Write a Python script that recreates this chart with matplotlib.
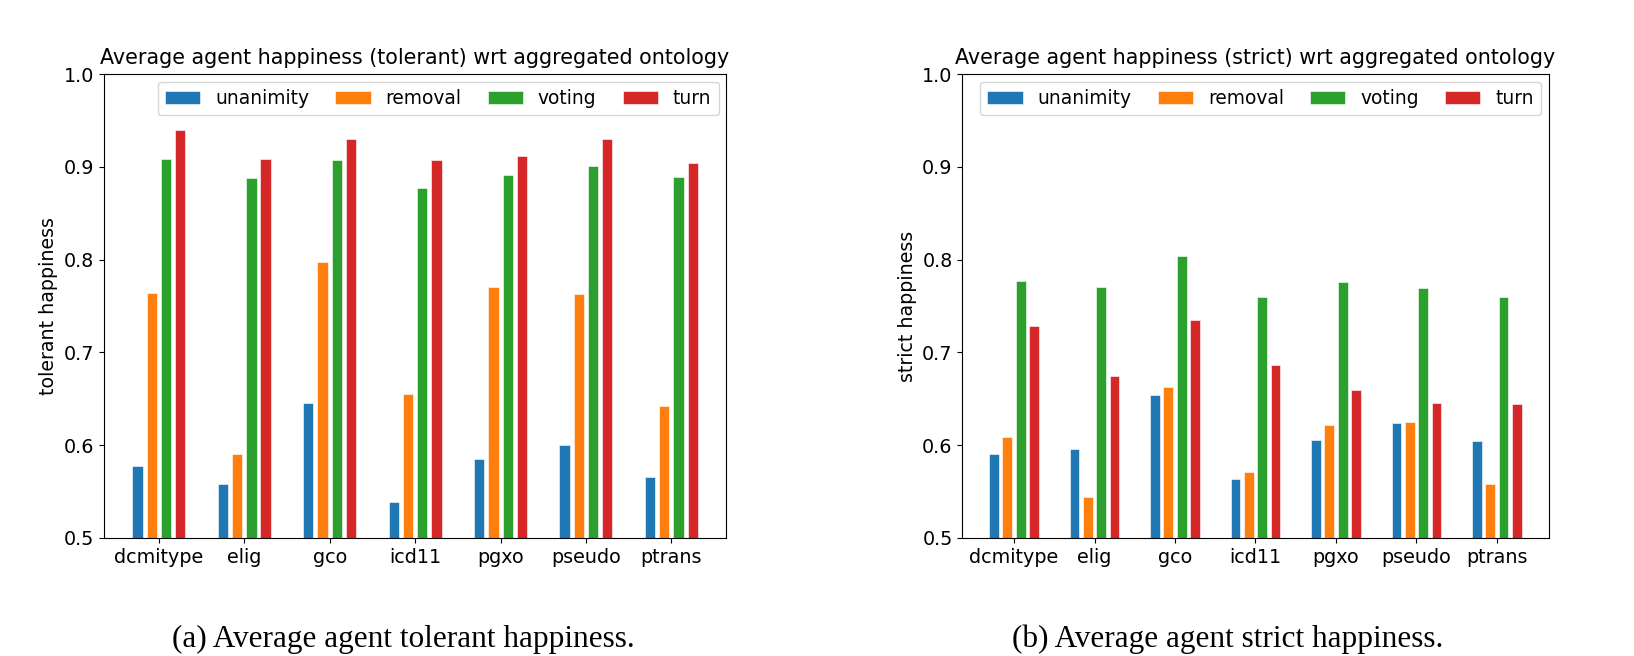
import numpy as np
import matplotlib
matplotlib.use("Agg")
import matplotlib.pyplot as plt

ontologies = ["dcmitype", "elig", "gco", "icd11", "pgxo", "pseudo", "ptrans"]
methods = ["unanimity", "removal", "voting", "turn"]

tolerant_unanimity = [0.577, 0.558, 0.645, 0.539, 0.585, 0.600, 0.566]
tolerant_removal = [0.764, 0.590, 0.797, 0.655, 0.771, 0.763, 0.642]
tolerant_voting = [0.908, 0.888, 0.907, 0.877, 0.891, 0.901, 0.889]
tolerant_turn = [0.940, 0.908, 0.930, 0.907, 0.912, 0.930, 0.904]

strict_unanimity = [0.590, 0.596, 0.654, 0.564, 0.606, 0.624, 0.605]
strict_removal = [0.609, 0.544, 0.663, 0.571, 0.622, 0.625, 0.558]
strict_voting = [0.777, 0.770, 0.804, 0.760, 0.776, 0.769, 0.760]
strict_turn = [0.728, 0.675, 0.735, 0.686, 0.659, 0.645, 0.644]

tolerant = [tolerant_unanimity, tolerant_removal, tolerant_voting, tolerant_turn]
strict = [strict_unanimity, strict_removal, strict_voting, strict_turn]
colors = ["#1f77b4", "#ff7f0e", "#2ca02c", "#d62728"]

plt.rcParams["font.family"] = ["DejaVu Sans"]

fig = plt.figure(figsize=(16.34, 6.56), dpi=100)
ax1 = fig.add_axes([0.0637, 0.180, 0.3807, 0.707])
ax2 = fig.add_axes([0.589, 0.180, 0.3587, 0.707])


def draw(ax, series, title, ylabel):
    x = np.arange(len(ontologies))
    step = 1 / 6
    for i, (vals, name) in enumerate(zip(series, methods)):
        ax.bar(x + (i - 1.5) * step, vals, width=0.12, color=colors[i],
               edgecolor="white", linewidth=0.4, label=name)
    ax.set_ylim(0.5, 1.0)
    ax.set_yticks([0.5, 0.6, 0.7, 0.8, 0.9, 1.0])
    ax.set_xticks(x)
    ax.set_xticklabels(ontologies, fontsize=13.8)
    ax.tick_params(axis="y", labelsize=13.8)
    ax.set_title(title, fontsize=14.9, pad=7)
    ax.set_ylabel(ylabel, fontsize=13.7)
    ax.legend(ncol=4, loc="upper right", fontsize=13.4, columnspacing=1.4,
              handlelength=1.9, borderaxespad=0.4)


draw(ax1, tolerant, "Average agent happiness (tolerant) wrt aggregated ontology",
     "tolerant happiness")
draw(ax2, strict, "Average agent happiness (strict) wrt aggregated ontology",
     "strict happiness")

fig.text(0.247, 0.025, "(a) Average agent tolerant happiness.", ha="center",
         va="center", fontsize=22.5, family="Liberation Serif")
fig.text(0.751, 0.025, "(b) Average agent strict happiness.", ha="center",
         va="center", fontsize=22.5, family="Liberation Serif")

fig.savefig("out.png", dpi=100)
